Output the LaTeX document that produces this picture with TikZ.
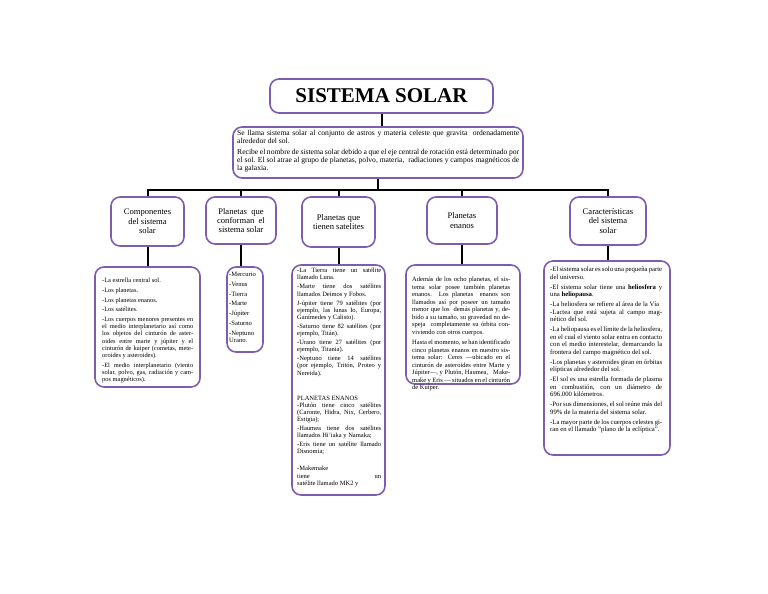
\documentclass[tikz,border=0pt]{standalone}
\usepackage{fontspec}
\setmainfont{Liberation Serif}
\definecolor{bord}{HTML}{7E5CAE}
\begin{document}
\begin{tikzpicture}[x=1pt,y=-1pt,
  box/.style={draw=bord,line width=1.6pt,rounded corners=9pt,fill=white,inner sep=0pt},
  lnk/.style={line width=2pt,black},
  hd/.style={font=\fontsize{8.6}{9.4}\selectfont,align=center},
  tx/.style={anchor=north west,font=\fontsize{6.3}{7}\selectfont,align=justify,inner sep=0pt}]
\useasboundingbox (0,0) rectangle (768,594);
\def\bx#1#2#3#4#5{\node[box,minimum width=#4-#2,minimum height=#5-#3] (#1) at ({(#2+#4)/2},{(#3+#5)/2}) {};}
\bx{title}{270}{79}{493}{113}
\bx{desc}{233}{127}{523}{178}
\bx{h1}{111}{197}{184}{246}
\bx{h2}{206}{197}{276}{244}
\bx{h3}{302}{197}{375}{247}
\bx{h4}{427}{197}{497}{244}
\bx{h5}{570}{197}{646}{245}
\bx{b1}{95}{267}{200}{387}
\bx{b2}{227}{267}{263}{352}
\bx{b3}{292}{265}{385}{495}
\bx{b4}{406}{265}{520}{384}
\bx{b5}{544}{261}{670}{455}
\coordinate (bar) at (378,190);
\draw[lnk] (title.south) -- (title.south |- desc.north);
\draw[lnk] (desc.south -| bar) -- (bar);
\draw[lnk] (h1.north) |- (bar) -| (h5.north);
\draw[lnk] (h2.north) -- (h2.north |- bar);
\draw[lnk] (h3.north) -- (h3.north |- bar);
\draw[lnk] (h4.north) -- (h4.north |- bar);
\foreach \i in {1,...,5}{\draw[lnk] (h\i.south) -- (h\i.south |- b\i.north);}
\node[font=\fontsize{21}{22}\selectfont\bfseries] (tt) at (title) {SISTEMA SOLAR};
\node[tx,text width=282,font=\fontsize{7.6}{8.3}\selectfont] (dt) at (237,130) {Se llama sistema solar al conjunto de astros y materia celeste que gravita\ \ ordenadamente alrededor del sol.\\[2pt]
Recibe el nombre de sistema solar debido a que el eje central de rotación está determinado por el sol. El sol atrae al grupo de planetas, polvo, materia,\ \ radiaciones y campos magnéticos de la galaxia.};
\node[hd] (t1) at (h1) {Componentes\\del sistema\\solar};
\node[hd] (t2) at (h2) {Planetas\ \ que\\conforman\ \ el\\sistema solar};
\node[hd] (t3) at (h3) {Planetas que\\tienen satelites};
\node[hd] (t4) at (h4) {Planetas\\enanos};
\node[hd] (t5) at (h5) {Características\\del sistema\\solar};
\node[tx,text width=91,font=\fontsize{6.4}{7.2}\selectfont] (x1) at (102,278) {-La estrella central sol.\\[2.5pt]-Los planetas.\\[2.5pt]-Los planetas enanos.\\[2.5pt]-Los satélites.\\[2.5pt]-Los cuerpos menores presentes en el medio interplanetario así como los objetos del cinturón de asteroides entre marte y júpiter y el cinturón de kuiper (cometas, meteoroides y asteroides).\\[2.5pt]-El medio interplanetario (viento solar, polvo, gas, radiación y campos magnéticos).};
\node[tx,text width=34,align=left,font=\fontsize{6.6}{7.2}\selectfont] (x2) at (229,272) {-Mercurio\\[2.6pt]-Venus\\[2.6pt]-Tierra\\[2.6pt]-Marte\\[2.6pt]-Júpiter\\[2.6pt]-Saturno\\[2.6pt]-Neptuno\\Urano.};
\node[tx,text width=84,font=\fontsize{6.5}{7.1}\selectfont] (x3) at (297,268) {-La Tierra tiene un satélite llamado Luna.\\[2pt]-Marte tiene dos satélites llamados Deimos y Fobos.\\[2pt]J-úpiter tiene 79 satélites (por ejemplo, las lunas Io, Europa, Ganímedes y Calisto).\\[2pt]-Saturno tiene 82 satélites (por ejemplo, Titán).\\[2pt]-Urano tiene 27 satélites (por ejemplo, Titania).\\[2pt]-Neptuno tiene 14 satélites (por ejemplo, Tritón, Proteo y Nereida).\\[18pt]PLANETAS ENANOS\\-Plutón tiene cinco satélites (Caronte, Hidra, Nix, Cerbero, Estigia);\\[2pt]-Haumea tiene dos satélites llamados Hi'iaka y Namaka;\\[2pt]-Eris tiene un satélite llamado Disnomia;\\[10pt]-Makemake\\tiene\hfill un\\satélite llamado MK2 y};
\node[tx,text width=98,font=\fontsize{6.5}{7.5}\selectfont] (x4) at (412,277) {Además de los ocho planetas, el sistema solar posee también planetas enanos. Los planetas\ \ enanos son llamados así por\ poseer un tamaño menor que los\ \ demás planetas y, debido a su\ tamaño, su gravedad no despeja\ \ completamente su órbita conviviendo con otros cuerpos.\\[3pt]Hasta el momento, se han identificado cinco planetas\ enanos en nuestro sistema solar: Ceres\ ---ubicado en el cinturón\ de asteroides entre Marte y\ \ Júpiter---, y Plutón, Haumea,\ \ \ Makemake y Eris\ --- situados en\ el cinturón de Kuiper.};
\node[tx,text width=112,font=\fontsize{6.7}{7.5}\selectfont] (x5) at (550,267) {-El sistema solar es solo una pequeña parte del universo.\\[2.5pt]-El sistema solar tiene una \textbf{heliosfera} y una \textbf{heliopausa}.\\[2.5pt]-La heliosfera se refiere al área de la Vía\\-Lactea que está sujeta al campo magnético del sol.\\[2.5pt]-La heliopausa es el límite de la heliosfera, en el cual el viento solar entra en contacto con el medio interestelar, demarcando la frontera del campo magnético del sol.\\[2.5pt]-Los planetas y asteroides giran en órbitas elípticas alrededor del sol.\\[2.5pt]-El sol es una estrella formada de plasma en combustión, con un diámetro de 696.000 kilómetros.\\[2.5pt]-Por sus dimensiones, el sol reúne más del 99\% de la materia del sistema solar.\\[2.5pt]-La mayor parte de los cuerpos celestes giran en el llamado "plano de la eclíptica".};
\end{tikzpicture}
\end{document}
